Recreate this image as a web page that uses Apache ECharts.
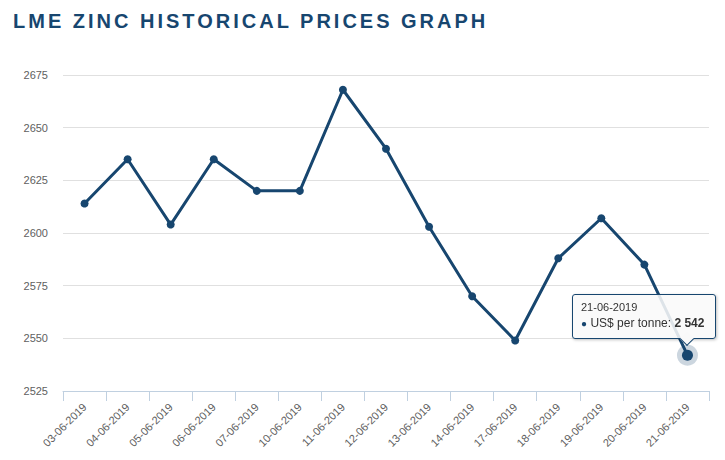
<!DOCTYPE html>
<html>
<head>
<meta charset="utf-8">
<script src="https://cdn.jsdelivr.net/npm/echarts@6/dist/echarts.min.js"></script>
<style>
html,body{margin:0;padding:0;background:#fff;}
#chart{width:725px;height:460px;}
</style>
</head>
<body>
<div id="chart"></div>
<script>
var titleText = 'LME ZINC HISTORICAL PRICES GRAPH';
var seriesName = 'US$ per tonne';
var categories = ['03-06-2019','04-06-2019','05-06-2019','06-06-2019','07-06-2019','10-06-2019','11-06-2019','12-06-2019','13-06-2019','14-06-2019','17-06-2019','18-06-2019','19-06-2019','20-06-2019','21-06-2019'];
var prices = [2614, 2635, 2604, 2635, 2620, 2620, 2668, 2640, 2603, 2570, 2549, 2588, 2607, 2585, 2542];
var yMin = 2525, yMax = 2675, yStep = 25;

var lastIdx = prices.length - 1;
var navy = '#17466f';
var FONT = 'Liberation Sans, Arial, sans-serif';
function fmt(v){ return String(v).replace(/\B(?=(\d{3})+(?!\d))/g, ' '); }

var chart = echarts.init(document.getElementById('chart'), null, {renderer:'svg'});
chart.setOption({
  animation: false,
  title: {
    text: titleText, left: 8, top: 6,
    textStyle: {fontFamily: FONT, fontWeight: 'bold', fontSize: 20, color: navy}
  },
  grid: {left: 63, right: 16, top: 75, bottom: 69, containLabel: false},
  tooltip: {
    trigger: 'item',
    triggerOn: 'none',
    alwaysShowContent: true,
    backgroundColor: 'rgba(249,249,249,0.88)',
    borderColor: navy,
    borderWidth: 1,
    padding: [5, 11, 6, 8],
    extraCssText: 'border-radius:3px;box-shadow:1px 1px 3px rgba(0,0,0,0.25);overflow:visible;',
    textStyle: {fontFamily: FONT, fontSize: 12, color: '#333'},
    position: function (pt) { return [pt[0] - 115, pt[1] - 61]; },
    formatter: function (p) {
      return '<div style="font-size:11px;line-height:15px;color:#333">' + p.name + '</div>' +
        '<div style="font-size:12px;line-height:17px;color:#333"><span style="color:' + navy + ';font-size:10px">\u25CF</span> ' +
        p.seriesName + ': <b>' + fmt(p.value) + '</b></div>' +
        '<div style="position:absolute;left:109px;bottom:-6px;width:9px;height:9px;background:#f9f9f9;border-right:1px solid ' + navy + ';border-bottom:1px solid ' + navy + ';transform:rotate(45deg);"></div>';
    }
  },
  xAxis: {
    type: 'category',
    data: categories,
    boundaryGap: true,
    axisLine: {lineStyle: {color: '#c0d0e0', width: 1}},
    axisTick: {show: true, length: 10, lineStyle: {color: '#c0d0e0'}},
    axisLabel: {rotate: 45, margin: 14, fontSize: 11, color: '#606060', fontFamily: FONT},
    splitLine: {show: false}
  },
  yAxis: {
    type: 'value',
    min: yMin, max: yMax, interval: yStep,
    axisLine: {show: false},
    axisTick: {show: false},
    axisLabel: {margin: 15, fontSize: 11, color: '#606060', fontFamily: FONT, formatter: function (v) { return String(v); }},
    splitLine: {lineStyle: {color: '#e0e0e0', width: 1}}
  },
  series: [{
    name: seriesName,
    type: 'line',
    data: prices,
    symbol: 'circle',
    symbolSize: function (v, p) { return p.dataIndex === lastIdx ? 11 : 8; },
    itemStyle: {color: navy},
    lineStyle: {color: navy, width: 3},
    emphasis: {disabled: true},
    markPoint: {
      z: 1,
      symbol: 'circle',
      symbolSize: 21,
      silent: true,
      label: {show: false},
      itemStyle: {color: 'rgba(23,70,111,0.22)'},
      data: [{coord: [categories[lastIdx], prices[lastIdx]]}]
    }
  }]
});
function spaceTitle() {
  var texts = document.querySelectorAll('#chart svg text');
  for (var i = 0; i < texts.length; i++) {
    if (texts[i].textContent === titleText) texts[i].style.letterSpacing = '3px';
  }
}
chart.on('finished', spaceTitle);
chart.dispatchAction({type: 'showTip', seriesIndex: 0, dataIndex: lastIdx});
spaceTitle();
</script>
</body>
</html>
